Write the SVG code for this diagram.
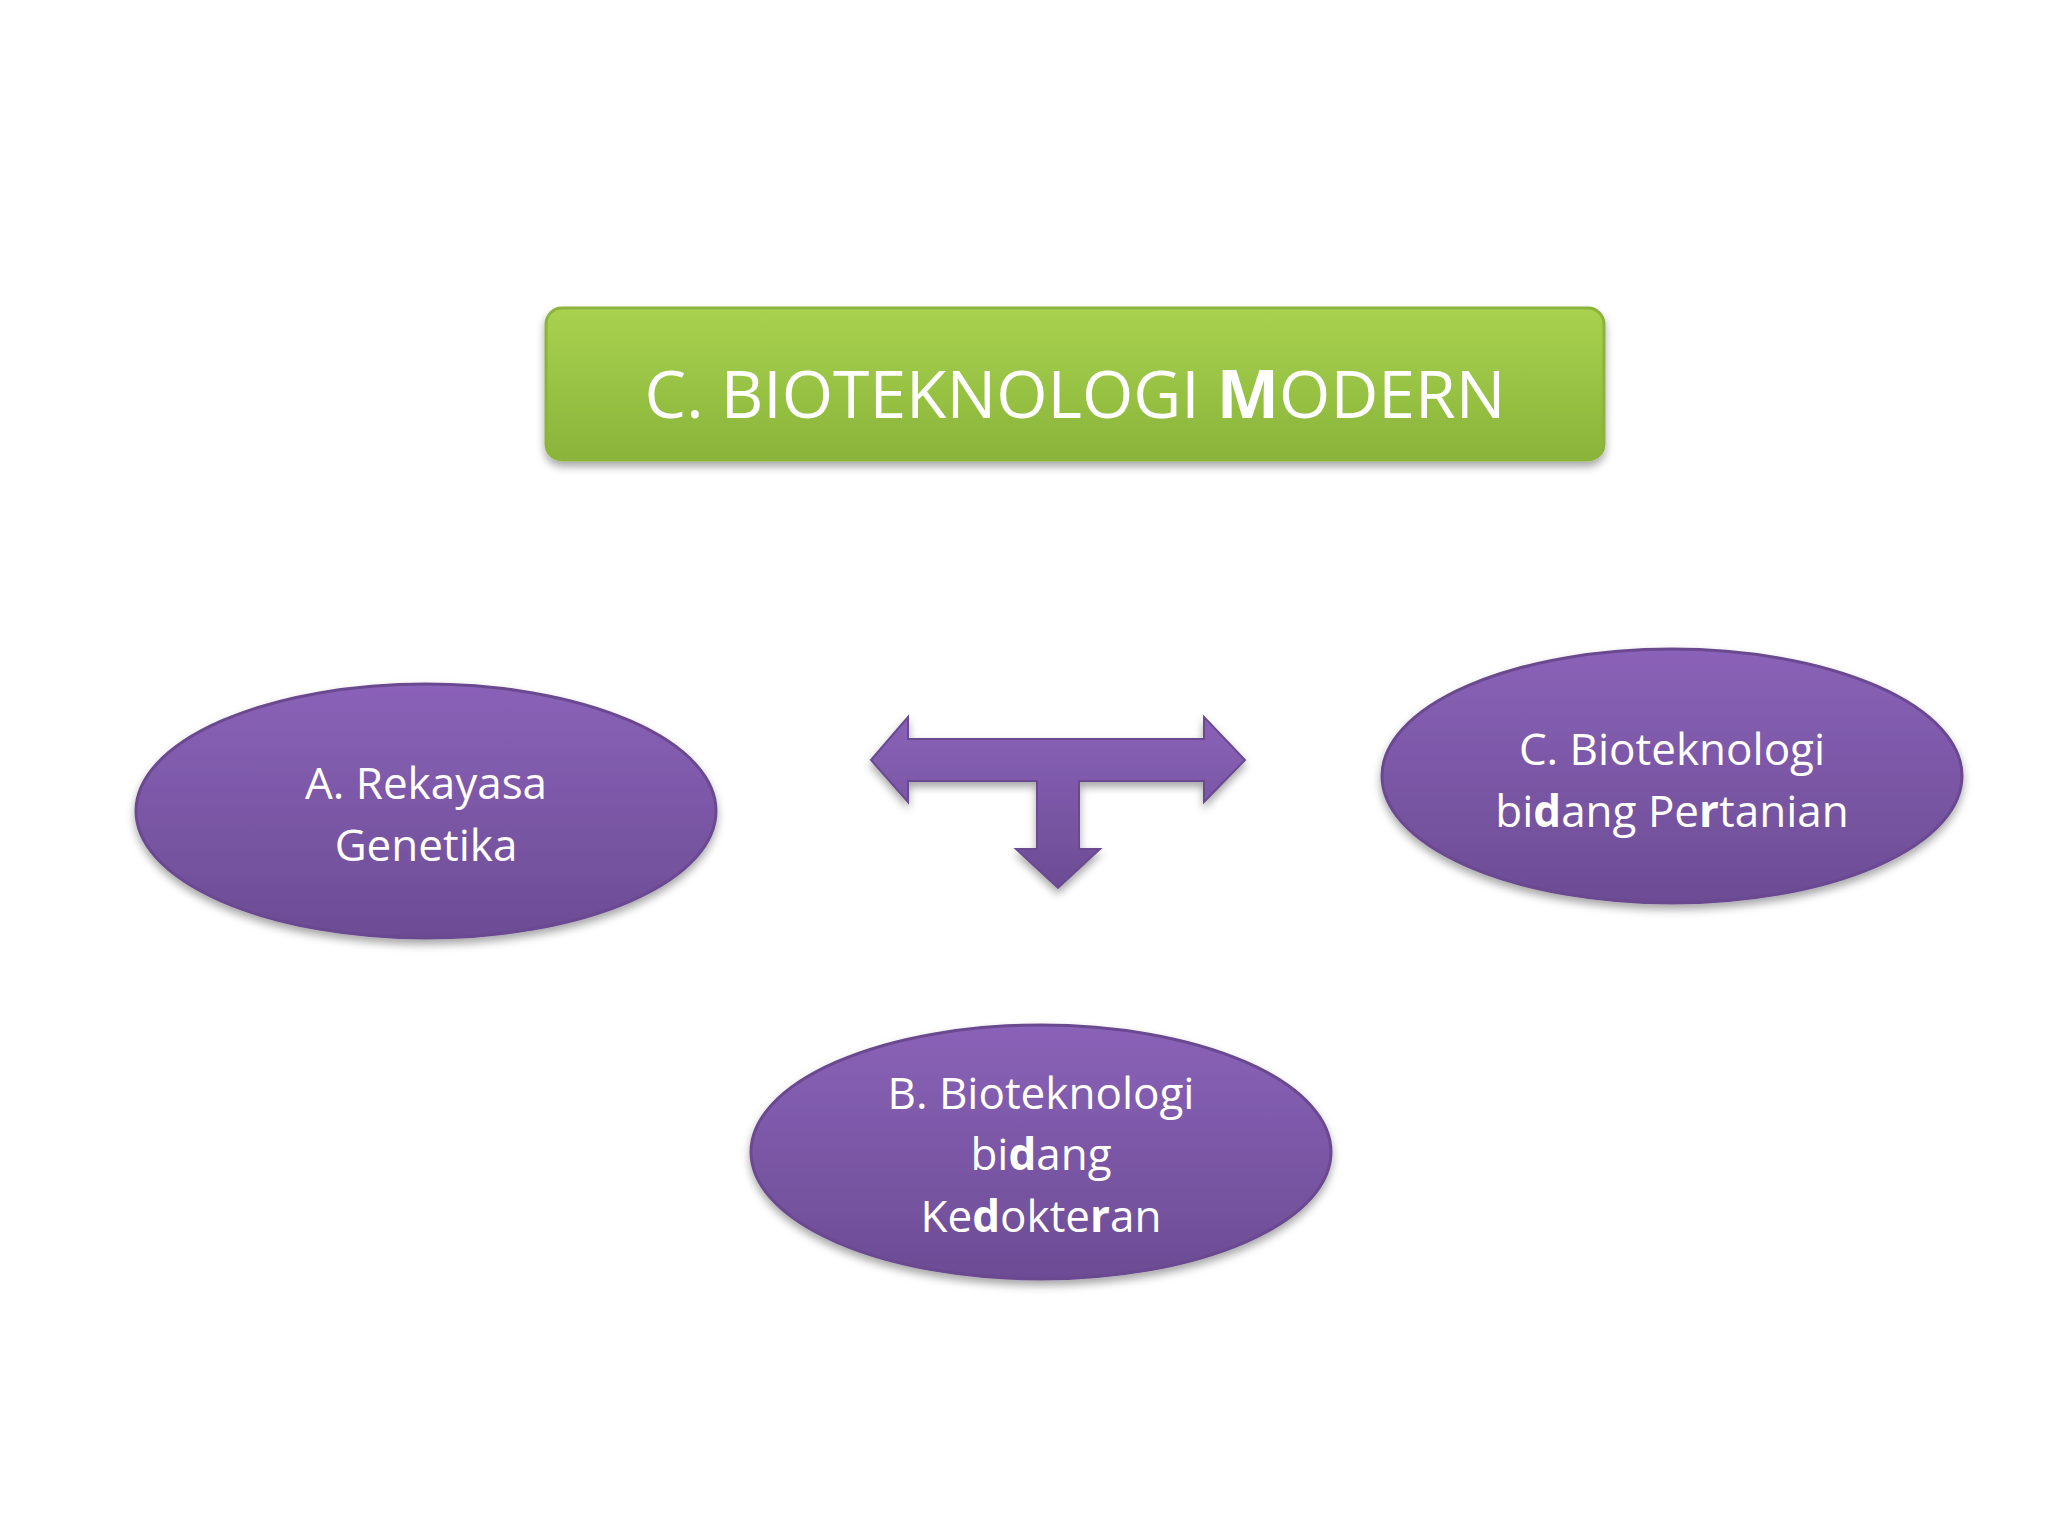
<svg xmlns="http://www.w3.org/2000/svg" width="2048" height="1536" viewBox="0 0 2048 1536">
<defs>
<linearGradient id="g" x1="0" y1="0" x2="0" y2="1"><stop offset="0" stop-color="#a8d24e"/><stop offset="1" stop-color="#8ab43a"/></linearGradient>
<linearGradient id="p" x1="0" y1="0" x2="0" y2="1"><stop offset="0" stop-color="#8a62b8"/><stop offset="1" stop-color="#6c4c94"/></linearGradient>
<filter id="s" x="-10%" y="-10%" width="120%" height="130%"><feDropShadow dx="0" dy="5" stdDeviation="4" flood-color="#000" flood-opacity="0.35"/></filter>
<style>text{font-family:"Open Sans","Liberation Sans",sans-serif;fill:#fff;text-anchor:middle}.n{font-size:44px}</style>
</defs>
<g id="title"><rect x="546" y="308" width="1058" height="152" rx="16" fill="url(#g)" stroke="#8cb43c" stroke-width="3" filter="url(#s)"/>
<text x="1075" y="418" font-size="66">C. BIOTEKNOLOGI <tspan font-weight="bold">M</tspan>ODERN</text></g>
<g id="connectors"><path d="M871 760 L908 717 L908 739 L1204 739 L1204 717 L1245 760 L1204 802 L1204 781 L1079 781 L1079 849 L1100 849 L1058 888 L1016 849 L1037 849 L1037 781 L908 781 L908 802 Z" fill="url(#p)" stroke="#6a4a90" stroke-width="2" filter="url(#s)"/></g>
<g id="a"><ellipse cx="426" cy="811" rx="290" ry="127" fill="url(#p)" stroke="#6a4a90" stroke-width="3" filter="url(#s)"/>
<text class="n" x="426" y="799">A. Rekayasa</text><text class="n" x="426" y="861">Genetika</text></g>
<g id="c"><ellipse cx="1672" cy="776" rx="290" ry="127" fill="url(#p)" stroke="#6a4a90" stroke-width="3" filter="url(#s)"/>
<text class="n" x="1672" y="765">C. Bioteknologi</text><text class="n" x="1672" y="827">bi<tspan font-weight="bold">d</tspan>ang Pe<tspan font-weight="bold">r</tspan>tanian</text></g>
<g id="b"><ellipse cx="1041" cy="1152" rx="290" ry="127" fill="url(#p)" stroke="#6a4a90" stroke-width="3" filter="url(#s)"/>
<text class="n" x="1041" y="1109">B. Bioteknologi</text><text class="n" x="1041" y="1170">bi<tspan font-weight="bold">d</tspan>ang</text><text class="n" x="1041" y="1232">Ke<tspan font-weight="bold">d</tspan>okte<tspan font-weight="bold">r</tspan>an</text></g>
</svg>
